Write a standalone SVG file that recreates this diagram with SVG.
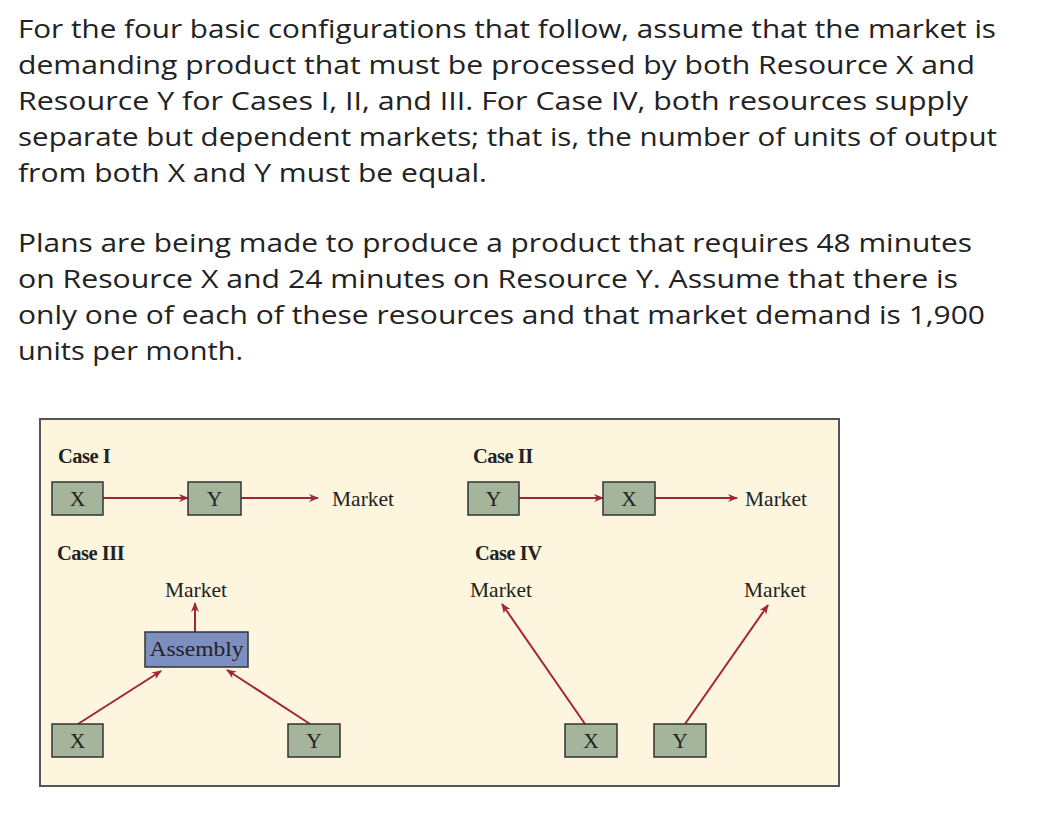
<svg xmlns="http://www.w3.org/2000/svg" width="1038" height="824" viewBox="0 0 1038 824">
<defs>
<marker id="ah" markerWidth="10" markerHeight="8" refX="9" refY="4" orient="auto" markerUnits="userSpaceOnUse"><path d="M0,0 L10,4 L0,8 L3,4 Z" fill="#a3243a"/></marker>
<style>
.p{font-family:"Open Sans","Liberation Sans",Arial,sans-serif;font-size:26px;fill:#222}
.d{font-family:"Liberation Serif","Times New Roman",serif;font-size:21.5px;fill:#222}
.h{font-family:"Liberation Serif","Times New Roman",serif;font-size:20.5px;font-weight:bold;fill:#222}
.b{fill:#a5b59c;stroke:#333;stroke-width:1.5}
.a{fill:#7d8fbf;stroke:#333;stroke-width:1.5}
.c{stroke:#a3243a;stroke-width:2;fill:none;marker-end:url(#ah)}
</style>
</defs>
<rect width="1038" height="824" fill="#fff"/>
<g id="text">
<text class="p" x="18" y="38" textLength="978" lengthAdjust="spacingAndGlyphs">For the four basic configurations that follow, assume that the market is</text>
<text class="p" x="18" y="74" textLength="957" lengthAdjust="spacingAndGlyphs">demanding product that must be processed by both Resource X and</text>
<text class="p" x="18" y="110" textLength="950" lengthAdjust="spacingAndGlyphs">Resource Y for Cases I, II, and III. For Case IV, both resources supply</text>
<text class="p" x="18" y="146" textLength="979" lengthAdjust="spacingAndGlyphs">separate but dependent markets; that is, the number of units of output</text>
<text class="p" x="18" y="182" textLength="469" lengthAdjust="spacingAndGlyphs">from both X and Y must be equal.</text>
<text class="p" x="18" y="252" textLength="954" lengthAdjust="spacingAndGlyphs">Plans are being made to produce a product that requires 48 minutes</text>
<text class="p" x="18" y="288" textLength="940" lengthAdjust="spacingAndGlyphs">on Resource X and 24 minutes on Resource Y. Assume that there is</text>
<text class="p" x="18" y="324" textLength="967" lengthAdjust="spacingAndGlyphs">only one of each of these resources and that market demand is 1,900</text>
<text class="p" x="18" y="360" textLength="225" lengthAdjust="spacingAndGlyphs">units per month.</text>
</g>
<rect x="40" y="419" width="799" height="367" fill="#fdf5dd" stroke="#555" stroke-width="2"/>
<g id="labels">
<text class="h" x="58" y="463" letter-spacing="-0.5">Case I</text>
<text class="h" x="57" y="560" letter-spacing="-0.5">Case III</text>
<text class="h" x="473" y="463" letter-spacing="-0.5">Case II</text>
<text class="h" x="475" y="560" letter-spacing="-0.5">Case IV</text>
</g>
<g id="connectors">
<line class="c" x1="103" y1="498" x2="188" y2="498"/>
<line class="c" x1="241" y1="498" x2="318" y2="498"/>
<line class="c" x1="519" y1="498" x2="603" y2="498"/>
<line class="c" x1="655" y1="498" x2="737" y2="498"/>
<line class="c" x1="195" y1="632" x2="195" y2="603"/>
<line class="c" x1="78" y1="724" x2="161" y2="671"/>
<line class="c" x1="310" y1="724" x2="227" y2="670"/>
<line class="c" x1="585" y1="724" x2="502" y2="604"/>
<line class="c" x1="685" y1="724" x2="768" y2="605"/>
</g>
<g id="c1x"><rect class="b" x="52" y="482" width="51" height="33"/><text class="d" x="77.5" y="506" text-anchor="middle">X</text></g>
<g id="c1y"><rect class="b" x="188" y="482" width="53" height="33"/><text class="d" x="214.5" y="506" text-anchor="middle">Y</text></g>
<g id="c1m"><text class="d" x="332" y="506">Market</text></g>
<g id="c2y"><rect class="b" x="468" y="482" width="51" height="33"/><text class="d" x="493.5" y="506" text-anchor="middle">Y</text></g>
<g id="c2x"><rect class="b" x="603" y="482" width="52" height="33"/><text class="d" x="629" y="506" text-anchor="middle">X</text></g>
<g id="c2m"><text class="d" x="745" y="506">Market</text></g>
<g id="c3m"><text class="d" x="196" y="597" text-anchor="middle">Market</text></g>
<g id="c3a"><rect class="a" x="145" y="632" width="103" height="35"/><text class="d" x="196.5" y="656" text-anchor="middle" textLength="94" lengthAdjust="spacingAndGlyphs">Assembly</text></g>
<g id="c3x"><rect class="b" x="52" y="724" width="51" height="33"/><text class="d" x="77.5" y="748" text-anchor="middle">X</text></g>
<g id="c3y"><rect class="b" x="288" y="724" width="52" height="33"/><text class="d" x="314" y="748" text-anchor="middle">Y</text></g>
<g id="c4m1"><text class="d" x="470" y="597">Market</text></g>
<g id="c4m2"><text class="d" x="744" y="597">Market</text></g>
<g id="c4x"><rect class="b" x="565" y="724" width="52" height="33"/><text class="d" x="591" y="748" text-anchor="middle">X</text></g>
<g id="c4y"><rect class="b" x="654" y="724" width="52" height="33"/><text class="d" x="680" y="748" text-anchor="middle">Y</text></g>
</svg>
